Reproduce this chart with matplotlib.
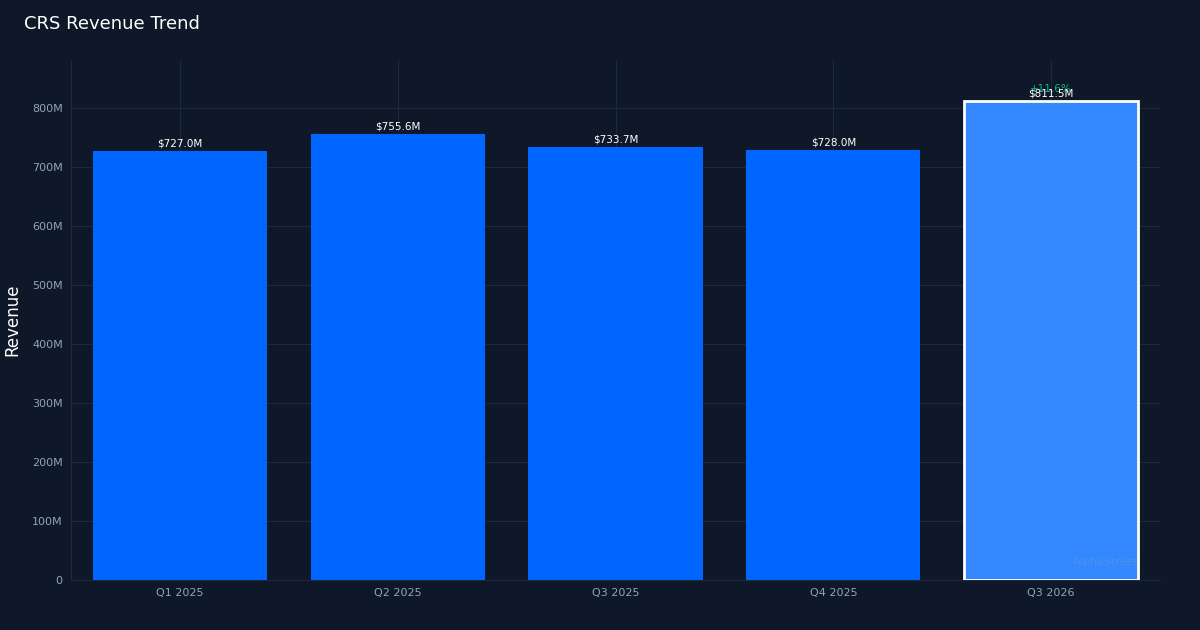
import matplotlib
matplotlib.use("Agg")
import matplotlib.pyplot as plt
from matplotlib.ticker import FuncFormatter

categories = ["Q1 2025", "Q2 2025", "Q3 2025", "Q4 2025", "Q3 2026"]
revenue_m = [727.0, 755.6, 733.7, 728.0, 811.5]
change_label = "+11.6%"
yticks_m = [0, 100, 200, 300, 400, 500, 600, 700, 800]

bg = "#0f1829"
fig = plt.figure(figsize=(12, 6.3), dpi=100, facecolor=bg)
ax = fig.add_axes([0.0592, 0.0794, 0.9075, 0.8254], facecolor=bg)

x = list(range(len(categories)))
colors = ["#0066ff"] * (len(categories) - 1) + ["#3388ff"]
edges = ["#0066ff"] * (len(categories) - 1) + ["#ffffff"]
lws = [0] * (len(categories) - 1) + [2]
bars = ax.bar(x, revenue_m, width=0.8, color=colors, edgecolor=edges, linewidth=lws, zorder=3)

for xi, v in zip(x, revenue_m):
    ax.text(xi, v + 4, f"${v:.1f}M", ha="center", va="bottom", color="#ffffff", fontsize=7.5, zorder=5)
ax.text(x[-1], revenue_m[-1] + 12, change_label, ha="center", va="bottom", color="#10b981", fontsize=7.5, zorder=4)

ax.set_xlim(-0.5, len(categories) - 0.5)
ax.set_ylim(0, 881)
ax.set_yticks(yticks_m)
ax.yaxis.set_major_formatter(FuncFormatter(lambda v, p: "0" if v == 0 else f"{int(v)}M"))
ax.set_xticks(x)
ax.set_xticklabels(categories)
ax.tick_params(colors="#94a3b8", labelsize=8, length=0, pad=6)
ax.grid(True, color="#1e293b", linewidth=0.8, zorder=0)
for s in ["top", "right"]:
    ax.spines[s].set_visible(False)
for s in ["left", "bottom"]:
    ax.spines[s].set_color("#1e293b")
    ax.spines[s].set_linewidth(0.8)

ax.set_ylabel("Revenue", color="#ffffff", fontsize=12)
ax.yaxis.set_label_coords(-0.046, 0.5)
fig.text(0.02, 0.962, "CRS Revenue Trend", color="#ffffff", fontsize=13, ha="left", va="center")
ax.text(0.98, 0.035, "AlphaStreet", transform=ax.transAxes, ha="right", va="center",
        color="#94a3b8", alpha=0.3, fontsize=8, zorder=6)

fig.savefig("out.png", dpi=100, facecolor=bg)
